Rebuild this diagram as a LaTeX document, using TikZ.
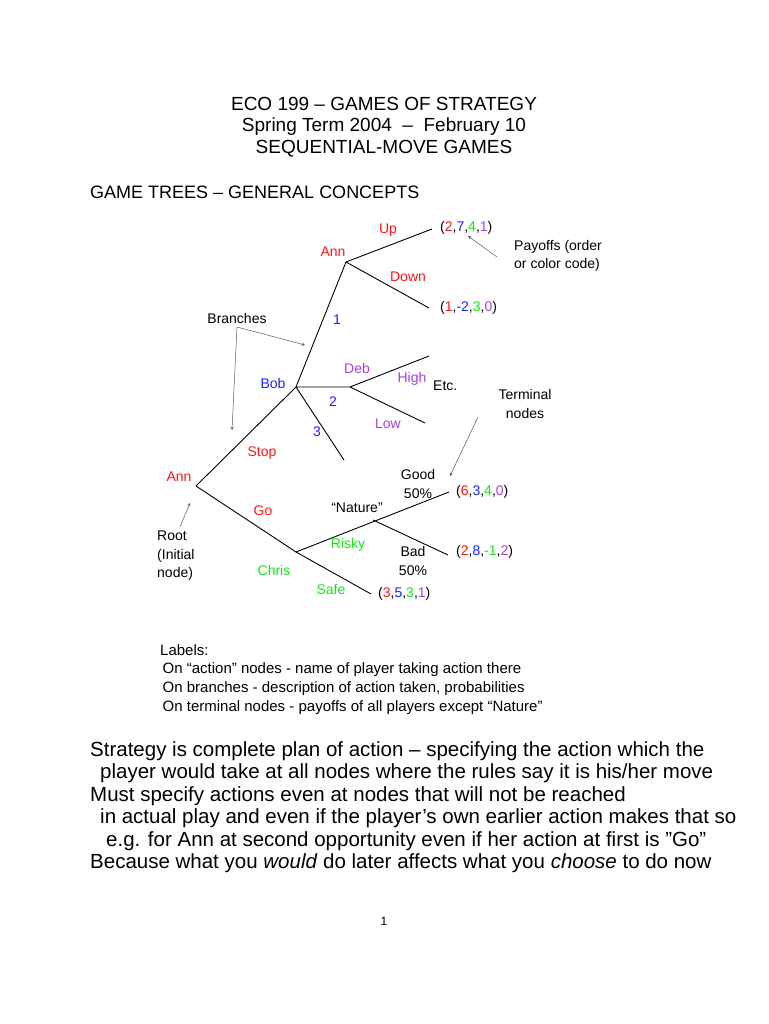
\documentclass[tikz,border=0pt]{standalone}
\usepackage{fontspec}
\setmainfont{Liberation Sans}
\begin{document}
\definecolor{R}{RGB}{255,20,20}
\definecolor{B}{RGB}{30,30,255}
\definecolor{G}{RGB}{20,230,20}
\definecolor{P}{RGB}{170,60,230}
\begin{tikzpicture}[x=1pt,y=-1pt,
  br/.style={line width=0.9pt},
  lab/.style={font=\fontsize{14}{16}\selectfont,inner sep=0pt},
  ml/.style={lab,font=\fontsize{14}{18.5}\selectfont},
  ann/.style={gray!70!black,line width=0.5pt,-stealth},
  body/.style={font=\fontsize{20.5}{22}\selectfont,anchor=west,inner sep=0pt},
  ttl/.style={font=\fontsize{19}{22}\selectfont,inner sep=0pt}]
\useasboundingbox (0,0) rectangle (768,1024);
\coordinate (root) at (196,486);
\coordinate (bob) at (296,387);
\coordinate (ann2) at (346,262);
\coordinate (up) at (432,229);
\coordinate (down) at (429,308);
\coordinate (deb) at (350,387);
\coordinate (high) at (429,356);
\coordinate (low) at (425,423);
\coordinate (three) at (344,460);
\coordinate (chris) at (296,552);
\coordinate (nat) at (373,520);
\coordinate (good) at (449,492);
\coordinate (bad) at (448,555);
\coordinate (safe) at (371,594);
\draw[br] (root)--(bob) (bob)--(ann2) (ann2)--(up) (ann2)--(down)
  (bob)--(deb) (deb)--(high) (deb)--(low) (bob)--(three)
  (root)--(chris) (chris)--(good) (nat)--(bad) (chris)--(safe);
% titles
\node[ttl] (t1) at (384,104) {ECO 199 -- GAMES OF STRATEGY};
\node[ttl] (t2) at (384,127) {Spring Term 2004 \ -- \ February 10};
\node[ttl] (t3) at (384,149) {SEQUENTIAL-MOVE GAMES};
\node[body,font=\fontsize{18}{22}\selectfont] (t4) at (90,192) {GAME TREES -- GENERAL CONCEPTS};
% tree labels
\node[lab,R] (lup) at (388,230) {Up};
\node[lab,R] (ldown) at (408,277) {Down};
\node[lab,R] (lann2) at (333,252) {Ann};
\node[lab,B] (l1) at (337,320) {1};
\node[lab] (lbr) at (237,318) {Branches};
\node[lab,B] (lbob) at (273,383) {Bob};
\node[lab,P] (ldeb) at (357,368) {Deb};
\node[lab,P] (lhigh) at (412,379) {High};
\node[lab,anchor=west] (letc) at (433,386) {Etc.};
\node[lab,B] (l2) at (333,402) {2};
\node[lab,P] (llow) at (388,424) {Low};
\node[lab,B] (l3) at (317,432) {3};
\node[lab,R] (lstop) at (262,453) {Stop};
\node[lab,R] (lann) at (179,477) {Ann};
\node[lab,R] (lgo) at (263,511) {Go};
\node[ml,align=left,anchor=west] (lroot) at (157,556) {Root\\(Initial\\node)};
\node[lab,G] (lchris) at (274,570) {Chris};
\node[lab,G] (lrisky) at (348,545) {Risky};
\node[lab,G] (lsafe) at (331,589) {Safe};
\node[lab] (lnat) at (357,508) {``Nature''};
\node[ml,align=center] (lgood) at (418,484) {Good\\50\%};
\node[ml,align=center] (lbad) at (413,561) {Bad\\50\%};
\node[lab,anchor=west] (p1) at (440,228) {(\textcolor{R}{2},\textcolor{B}{7},\textcolor{G}{4},\textcolor{P}{1})};
\node[lab,anchor=west] (p2) at (440,308) {(\textcolor{R}{1},\textcolor{B}{-2},\textcolor{G}{3},\textcolor{P}{0})};
\node[lab,anchor=west] (p3) at (456,492) {(\textcolor{R}{6},\textcolor{B}{3},\textcolor{G}{4},\textcolor{P}{0})};
\node[lab,anchor=west] (p4) at (456,552) {(\textcolor{R}{2},\textcolor{B}{8},\textcolor{G}{-1},\textcolor{P}{2})};
\node[lab,anchor=west] (p5) at (378,594) {(\textcolor{R}{3},\textcolor{B}{5},\textcolor{G}{3},\textcolor{P}{1})};
\node[ml,align=left,anchor=west] (lpay) at (514,256) {Payoffs (order\\or color code)};
\node[ml,align=center] (lterm) at (525,404) {Terminal\\nodes};
% annotation arrows
\coordinate (bra) at (237,327);
\draw[ann] (497,257) -- (468,236);
\draw[ann] (bra) -- (305,345);
\draw[ann] (bra) -- (232,430);
\draw[ann] (478,417) -- (450,476);
\draw[ann] (180,527) -- (190,503);
% labels block
\node[lab,anchor=north west,align=left,font=\fontsize{15}{18.7}\selectfont] (blk) at (160,644) {Labels:\\
\,On ``action'' nodes - name of player taking action there\\
\,On branches - description of action taken, probabilities\\
\,On terminal nodes - payoffs of all players except ``Nature''};
% body text
\node[body] (b1) at (90,751) {Strategy is complete plan of action -- specifying the action which the};
\node[body] (b2) at (100,773) {player would take at all nodes where the rules say it is his/her move};
\node[body] (b3) at (90,796) {Must specify actions even at nodes that will not be reached};
\node[body] (b4) at (100,818) {in actual play and even if the player's own earlier action makes that so};
\node[body] (b5) at (106,841) {e.g. for Ann at second opportunity even if her action at first is "Go"};
\node[body] (b6) at (90,863) {Because what you \textit{would} do later affects what you \textit{choose} to do now};
\node[font=\fontsize{12}{14}\selectfont\rmfamily] (pg) at (384,921) {1};
\end{tikzpicture}
\end{document}
